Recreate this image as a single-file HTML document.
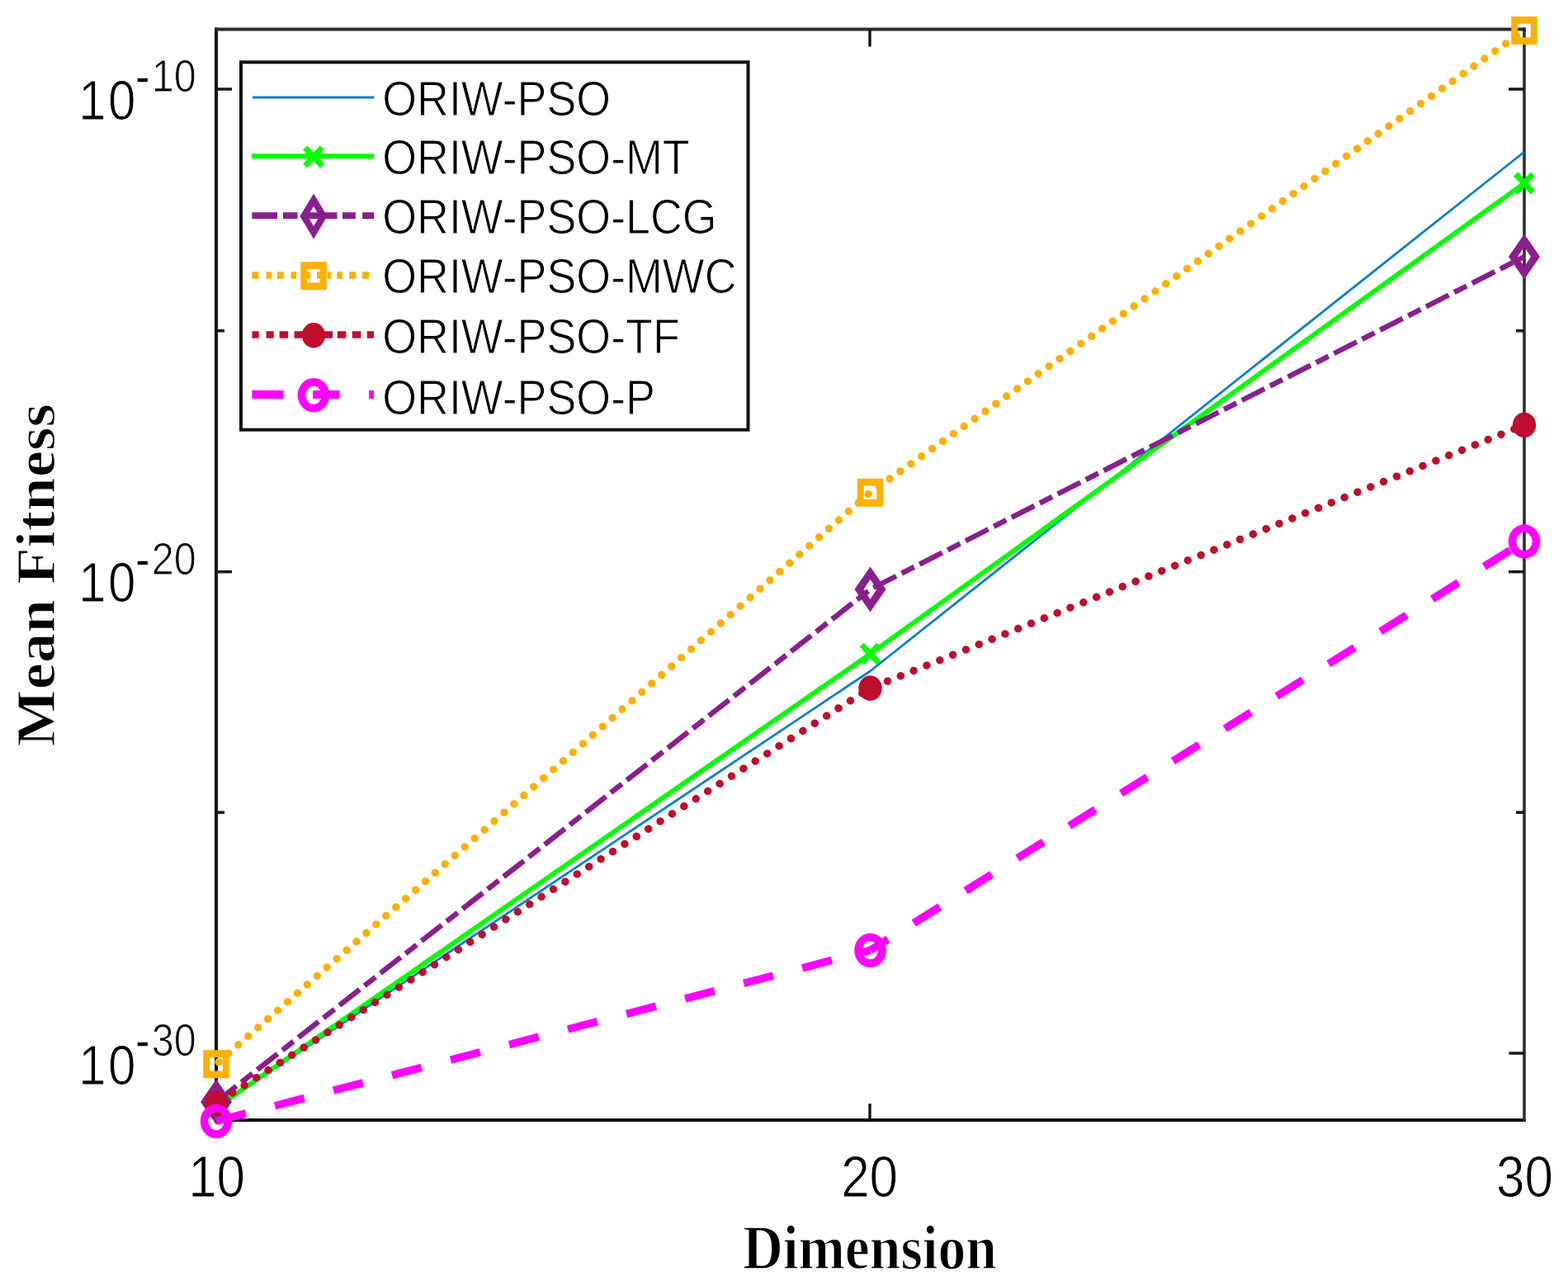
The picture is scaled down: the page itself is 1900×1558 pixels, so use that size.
<!DOCTYPE html><html><head><meta charset="utf-8"><title>Mean Fitness vs Dimension</title><style>html,body{margin:0;padding:0;background:#fff;overflow:hidden}svg{display:block}</style></head><body>
<svg width="1900" height="1558" viewBox="0 0 1900 1558">
<rect width="1900" height="1558" fill="#fff"/>
<g fill="none" stroke="#151515">
<path d="M262,1359V33.5" stroke-width="4"/>
<path d="M260,1357H1848.8" stroke-width="4" stroke="#0d0d0d"/>
<path d="M260,35.5H1848.8" stroke-width="4" stroke="#2a2a2a"/>
<path d="M1847,1359V33.5" stroke-width="3.6" stroke="#2e2e2e"/>
<path d="M262,108h19M1847,108h-19" stroke-width="3.4"/>
<path d="M262,400.8h10M1847,400.8h-10" stroke-width="3.4"/>
<path d="M262,692.8h19M1847,692.8h-19" stroke-width="3.4"/>
<path d="M262,984.2h10M1847,984.2h-10" stroke-width="3.4"/>
<path d="M262,1276h18.5M1847,1276h-18.5" stroke-width="3.4"/>
<path d="M1054,1357v-20M1054,35.5v21" stroke-width="3.4"/>
</g>
<polyline points="262,1342 1054.5,813 1847,184" fill="none" stroke="#0A80CC" stroke-width="2.8" stroke-linecap="butt" stroke-linejoin="round"/>
<polyline points="262,1342 1054.5,792.2 1847,222" fill="none" stroke="#00FF00" stroke-width="5.8" stroke-linecap="butt" stroke-linejoin="round"/>
<path d="M251.7,1331L272.3,1353M251.7,1353L272.3,1331" stroke="#00FF00" stroke-width="7" fill="none"/>
<path d="M1044.2,781.2L1064.8,803.2M1044.2,803.2L1064.8,781.2" stroke="#00FF00" stroke-width="7" fill="none"/>
<path d="M1836.7,211L1857.3,233M1836.7,233L1857.3,211" stroke="#00FF00" stroke-width="7" fill="none"/>
<path d="M262,1335L1054.5,714" fill="none" stroke="#8B1E8F" stroke-width="6.4" stroke-dasharray="31.197 7.447 17.108 7.447" stroke-dashoffset="0" stroke-linecap="butt"/>
<path d="M1054.5,714L1847,311" fill="none" stroke="#8B1E8F" stroke-width="6.4" stroke-dasharray="30.901 7.376 16.946 7.376" stroke-dashoffset="-4.4" stroke-linecap="butt"/>
<path d="M262,1307.5L281,1335L262,1362.5L243,1335Z M262,1323L254,1335L262,1347L270,1335Z" fill="#8B1E8F" fill-rule="evenodd"/>
<path d="M1054.5,686.5L1073.5,714L1054.5,741.5L1035.5,714Z M1054.5,702L1046.5,714L1054.5,726L1062.5,714Z" fill="#8B1E8F" fill-rule="evenodd"/>
<path d="M1847,283.5L1866,311L1847,338.5L1828,311Z M1847,299L1839,311L1847,323L1855,311Z" fill="#8B1E8F" fill-rule="evenodd"/>
<path d="M262,1289.3L1054.5,596.7" fill="none" stroke="#FFAF00" stroke-width="9.4" stroke-dasharray="0.010 15.830" stroke-dashoffset="-4.0" stroke-linecap="round"/>
<path d="M1054.5,596.7L1847,37" fill="none" stroke="#FFAF00" stroke-width="9.4" stroke-dasharray="0.010 15.747" stroke-dashoffset="-13.14" stroke-linecap="round"/>
<path d="M246.25,1272.3H277.75V1306.3H246.25Z M254.2,1281.05V1297.55H269.8V1281.05Z" fill="#FFAF00" fill-rule="evenodd"/>
<path d="M1038.75,579.7H1070.25V613.7H1038.75Z M1046.7,588.45V604.95H1062.3V588.45Z" fill="#FFAF00" fill-rule="evenodd"/>
<path d="M1831.25,20H1862.75V54H1831.25Z M1839.2,28.75V45.25H1854.8V28.75Z" fill="#FFAF00" fill-rule="evenodd"/>
<polyline points="262,1336.5 1054.5,833.7 1847,515" fill="none" stroke="#BF0D2E" stroke-width="9.5" stroke-dasharray="0.01 17.04" stroke-dashoffset="-6.4" stroke-linecap="round" stroke-linejoin="round"/>
<ellipse cx="262" cy="1336.5" rx="14.2" ry="15.2" fill="#BF0D2E"/>
<ellipse cx="1054.5" cy="833.7" rx="14.2" ry="15.2" fill="#BF0D2E"/>
<ellipse cx="1847" cy="515" rx="14.2" ry="15.2" fill="#BF0D2E"/>
<path d="M262,1358.3L1054.5,1151.3" fill="none" stroke="#FF00FF" stroke-width="9.5" stroke-dasharray="36.950 36.450" stroke-dashoffset="0" stroke-linecap="butt"/>
<path d="M1054.5,1151.3L1847,656" fill="none" stroke="#FF00FF" stroke-width="9.5" stroke-dasharray="37.302 36.798" stroke-dashoffset="-62.1" stroke-linecap="butt"/>
<path d="M242.7,1358.3a19.3,20.7 0 1,0 38.6,0a19.3,20.7 0 1,0 -38.6,0Z M252.3,1358.3a9.7,11 0 1,1 19.4,0a9.7,11 0 1,1 -19.4,0Z" fill="#FF00FF" fill-rule="evenodd"/>
<path d="M1035.2,1151.3a19.3,20.7 0 1,0 38.6,0a19.3,20.7 0 1,0 -38.6,0Z M1044.8,1151.3a9.7,11 0 1,1 19.4,0a9.7,11 0 1,1 -19.4,0Z" fill="#FF00FF" fill-rule="evenodd"/>
<path d="M1827.7,656a19.3,20.7 0 1,0 38.6,0a19.3,20.7 0 1,0 -38.6,0Z M1837.3,656a9.7,11 0 1,1 19.4,0a9.7,11 0 1,1 -19.4,0Z" fill="#FF00FF" fill-rule="evenodd"/>
<rect x="292" y="75.3" width="614.5" height="445.40000000000003" fill="#fff" stroke="#111" stroke-width="4"/>
<path d="M305.9,118H453.3" fill="none" stroke="#0A80CC" stroke-width="3"/>
<path d="M304.8,189.3H453.3" fill="none" stroke="#00FF00" stroke-width="6"/>
<path d="M369.7,179.0L390.3,201.0M369.7,201.0L390.3,179.0" stroke="#00FF00" stroke-width="7" fill="none"/>
<path d="M305.3,261.2H336.1M342.9,261.2H360.5M366,261.2H408.5M414.9,261.2H430.9M439.1,261.2H453.3" fill="none" stroke="#8B1E8F" stroke-width="8"/>
<path d="M380,234.39999999999998L396.5,261.9L380,289.4L363.5,261.9Z M380,249.89999999999998L373,261.9L380,273.9L387,261.9Z" fill="#8B1E8F" fill-rule="evenodd"/>
<path d="M305.4,333.5H313.4M322.5,333.5H329.1M335.9,333.5H343.9M352.5,333.5H359.2M366,333.5H376M384,333.5H394M396.5,333.5H401M408.3,333.5H414.9M423.1,333.5H431.1M438.8,333.5H447.2" fill="none" stroke="#FFAF00" stroke-width="8.5"/>
<path d="M364.25,317.2H395.75V351.2H364.25Z M372.2,325.95V342.45H387.8V325.95Z" fill="#FFAF00" fill-rule="evenodd"/>
<path d="M305.5,405.5H313.7M322.6,405.5H331.7M338.7,405.5H349.2M356.6,405.5H403.1M408.8,405.5H419.3M426.8,405.5H437.3M444.7,405.5H453" fill="none" stroke="#BF0D2E" stroke-width="8.5"/>
<ellipse cx="380" cy="406.2" rx="14.2" ry="15.2" fill="#BF0D2E"/>
<path d="M305.3,478H343.7M379,478H411.7M447.1,478H453" fill="none" stroke="#FF00FF" stroke-width="10"/>
<path d="M360.7,478.7a19.3,20.7 0 1,0 38.6,0a19.3,20.7 0 1,0 -38.6,0Z M370.3,478.7a9.7,11 0 1,1 19.4,0a9.7,11 0 1,1 -19.4,0Z" fill="#FF00FF" fill-rule="evenodd"/>
<text transform="translate(463.2,139.9) scale(1,1.1)" font-family="Liberation Sans, Arial, Helvetica, sans-serif" stroke="#fff" stroke-width="0.9" font-size="53.8" fill="#000">ORIW-PSO</text>
<text transform="translate(463.2,211.4) scale(1,1.1)" font-family="Liberation Sans, Arial, Helvetica, sans-serif" stroke="#fff" stroke-width="0.9" font-size="53.8" fill="#000">ORIW-PSO-MT</text>
<text transform="translate(463.2,283.4) scale(1,1.1)" font-family="Liberation Sans, Arial, Helvetica, sans-serif" stroke="#fff" stroke-width="0.9" font-size="53.8" fill="#000">ORIW-PSO-LCG</text>
<text transform="translate(463.2,354.7) scale(1,1.1)" font-family="Liberation Sans, Arial, Helvetica, sans-serif" stroke="#fff" stroke-width="0.9" font-size="53.8" fill="#000">ORIW-PSO-MWC</text>
<text transform="translate(463.2,428) scale(1,1.1)" font-family="Liberation Sans, Arial, Helvetica, sans-serif" stroke="#fff" stroke-width="0.9" font-size="53.8" fill="#000">ORIW-PSO-TF</text>
<text transform="translate(463.2,501.5) scale(1,1.1)" font-family="Liberation Sans, Arial, Helvetica, sans-serif" stroke="#fff" stroke-width="0.9" font-size="53.8" fill="#000">ORIW-PSO-P</text>
<text transform="translate(95.13,144.90) scale(1,1.145)" font-family="Liberation Sans, Arial, Helvetica, sans-serif" stroke="#fff" stroke-width="0.9" font-size="60" letter-spacing="2.5" fill="#000">10</text>
<text transform="translate(163.80,117.40) scale(1,1.40)" font-family="Liberation Sans, Arial, Helvetica, sans-serif" stroke="#fff" stroke-width="0.9" font-size="54" fill="#000">-</text>
<text transform="translate(183.75,111.40) scale(1,1.15)" font-family="Liberation Sans, Arial, Helvetica, sans-serif" stroke="#fff" stroke-width="0.9" font-size="48.5" fill="#000">10</text>
<text transform="translate(95.13,728.70) scale(1,1.145)" font-family="Liberation Sans, Arial, Helvetica, sans-serif" stroke="#fff" stroke-width="0.9" font-size="60" letter-spacing="2.5" fill="#000">10</text>
<text transform="translate(163.80,702.20) scale(1,1.40)" font-family="Liberation Sans, Arial, Helvetica, sans-serif" stroke="#fff" stroke-width="0.9" font-size="54" fill="#000">-</text>
<text transform="translate(183.75,696.20) scale(1,1.15)" font-family="Liberation Sans, Arial, Helvetica, sans-serif" stroke="#fff" stroke-width="0.9" font-size="48.5" fill="#000">20</text>
<text transform="translate(95.13,1313.60) scale(1,1.145)" font-family="Liberation Sans, Arial, Helvetica, sans-serif" stroke="#fff" stroke-width="0.9" font-size="60" letter-spacing="2.5" fill="#000">10</text>
<text transform="translate(163.80,1285.40) scale(1,1.40)" font-family="Liberation Sans, Arial, Helvetica, sans-serif" stroke="#fff" stroke-width="0.9" font-size="54" fill="#000">-</text>
<text transform="translate(183.75,1279.40) scale(1,1.15)" font-family="Liberation Sans, Arial, Helvetica, sans-serif" stroke="#fff" stroke-width="0.9" font-size="48.5" fill="#000">30</text>
<text transform="translate(262.6,1450.2) scale(1,1.13)" font-family="Liberation Sans, Arial, Helvetica, sans-serif" stroke="#fff" stroke-width="0.9" font-size="62" text-anchor="middle" fill="#000">10</text>
<text transform="translate(1053.6,1450.2) scale(1,1.13)" font-family="Liberation Sans, Arial, Helvetica, sans-serif" stroke="#fff" stroke-width="0.9" font-size="62" text-anchor="middle" fill="#000">20</text>
<text transform="translate(1847.4,1450.2) scale(1,1.13)" font-family="Liberation Sans, Arial, Helvetica, sans-serif" stroke="#fff" stroke-width="0.9" font-size="62" text-anchor="middle" fill="#000">30</text>
<text transform="translate(899.91,1536.9) scale(1,1.117)" font-family="Liberation Serif, Times New Roman, Times, serif" font-weight="bold" stroke="#fff" stroke-width="1.2" font-size="67.6" fill="#000">Dimension</text>
<text transform="translate(65.5,904.45) rotate(-90) scale(1.079,1)" font-family="Liberation Serif, Times New Roman, Times, serif" font-weight="bold" stroke="#fff" stroke-width="1.2" font-size="67.6" fill="#000">Mean Fitness</text>
</svg></body></html>
